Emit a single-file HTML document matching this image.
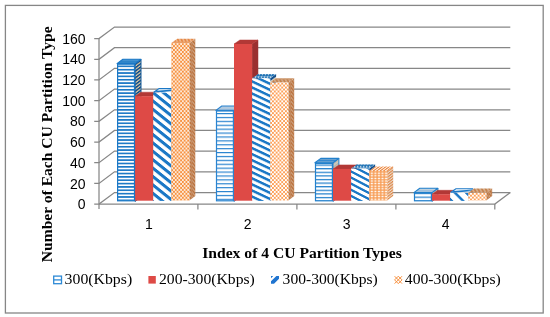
<!DOCTYPE html>
<html><head><meta charset="utf-8"><title>chart</title>
<style>
html,body{margin:0;padding:0;background:#fff;}
body{width:550px;height:317px;overflow:hidden;}
svg{display:block;}
.cal{font-family:"Liberation Sans",sans-serif;font-size:14px;fill:#000;}
.tb{font-family:"Liberation Serif",serif;font-weight:bold;font-size:15px;fill:#000;}
.tr{font-family:"Liberation Serif",serif;font-size:15.4px;fill:#000;}
</style></head><body>
<svg width="550" height="317" viewBox="0 0 550 317">
<defs>
<pattern id="b0" width="4" height="3.35" patternUnits="userSpaceOnUse" y="65.50"><rect width="4" height="3.35" fill="#fff"/><rect width="4" height="1.65" fill="#1b78c6"/></pattern>
<pattern id="b0s" width="4" height="3.35" patternUnits="userSpaceOnUse" patternTransform="translate(135.1,63.6) skewY(-36.7)"><rect width="4" height="3.35" fill="#d9c9a3"/><rect width="4" height="1.94" fill="#15508d"/></pattern>
<pattern id="b0t" width="4" height="1.5" patternUnits="userSpaceOnUse" y="59.40"><rect width="4" height="1.5" fill="#1f7cc4"/><rect width="4" height="0.6" y="0.7" fill="#4f9bd6"/></pattern>
<pattern id="d0" width="10" height="8.4" patternUnits="userSpaceOnUse" patternTransform="translate(153.2,99.25) skewY(38.7)"><rect width="10" height="8.4" fill="#fff"/><rect width="10" height="3.9" fill="#1b78c6"/></pattern>
<pattern id="d0s" width="10" height="8.4" patternUnits="userSpaceOnUse" patternTransform="translate(171.3,92.6) skewY(-36.7)"><rect width="10" height="8.4" fill="#d8d0c0"/><rect width="10" height="3.78" fill="#15508d"/></pattern>
<pattern id="o0" width="3.55" height="3.94" patternUnits="userSpaceOnUse" x="172.2" y="44.1"><rect width="3.55" height="3.94" fill="#f79240"/><circle cx="1.775" cy="0" r="0.95" fill="#fff"/><circle cx="1.775" cy="3.94" r="0.95" fill="#fff"/><circle cx="0" cy="1.97" r="0.95" fill="#fff"/><circle cx="3.55" cy="1.97" r="0.95" fill="#fff"/></pattern>
<pattern id="o0s" width="3.55" height="3.94" patternUnits="userSpaceOnUse" patternTransform="translate(189.4,43.1) skewY(-36.7) scale(0.75,1)"><rect width="3.55" height="3.94" fill="#bd7440"/><circle cx="1.775" cy="0" r="0.76" fill="#dcccbc"/><circle cx="1.775" cy="3.94" r="0.76" fill="#dcccbc"/><circle cx="0" cy="1.97" r="0.76" fill="#dcccbc"/><circle cx="3.55" cy="1.97" r="0.76" fill="#dcccbc"/></pattern>
<pattern id="o0t" width="3.55" height="3.94" patternUnits="userSpaceOnUse" patternTransform="translate(171.3,43.1) skewX(-53.3) scale(1,0.6)"><rect width="3.55" height="3.94" fill="#e58846"/><circle cx="1.775" cy="0" r="0.8075" fill="#f7e3d2"/><circle cx="1.775" cy="3.94" r="0.8075" fill="#f7e3d2"/><circle cx="0" cy="1.97" r="0.8075" fill="#f7e3d2"/><circle cx="3.55" cy="1.97" r="0.8075" fill="#f7e3d2"/></pattern>
<pattern id="b1" width="4" height="3.9" patternUnits="userSpaceOnUse" y="113.00"><rect width="4" height="3.9" fill="#fff"/><rect width="4" height="1.2" fill="#2a84d0"/></pattern>
<pattern id="b1s" width="4" height="3.9" patternUnits="userSpaceOnUse" patternTransform="translate(234.0,110.4) skewY(-36.7)"><rect width="4" height="3.9" fill="#c9c9c0"/><rect width="4" height="2.26" fill="#7d97b3"/></pattern>
<pattern id="b1t" width="4" height="1.5" patternUnits="userSpaceOnUse" y="106.20"><rect width="4" height="1.5" fill="#a9c3dc"/><rect width="4" height="0.6" y="0.7" fill="#b9cfe4"/></pattern>
<pattern id="d1" width="10" height="6.06" patternUnits="userSpaceOnUse" patternTransform="translate(252.1,104.30) skewY(25.2)"><rect width="10" height="6.06" fill="#fff"/><rect width="10" height="2.8" fill="#1b78c6"/></pattern>
<pattern id="d1s" width="10" height="6.06" patternUnits="userSpaceOnUse" patternTransform="translate(270.2,78.3) skewY(-36.7)"><rect width="10" height="6.06" fill="#d8d0c0"/><rect width="10" height="2.73" fill="#15508d"/></pattern>
<pattern id="d1t" width="3" height="3" patternUnits="userSpaceOnUse" patternTransform="translate(252.1,78.3) skewX(-53.3)"><rect width="3" height="3" fill="#1a6fb3"/><path d="M0,0.5 L3,2.5" stroke="#cfe0ee" stroke-width="0.9"/></pattern>
<pattern id="o1" width="3.7" height="3.94" patternUnits="userSpaceOnUse" x="271.1" y="83.6"><rect width="3.7" height="3.94" fill="#fff"/><path d="M0,0 L3.7,3.94 M3.7,0 L0,3.94" stroke="#fd7a14" stroke-width="0.6" stroke-linecap="square"/><circle cx="1.85" cy="1.97" r="0.54" fill="#fd7a14"/><circle cx="0" cy="0" r="0.54" fill="#fd7a14"/><circle cx="3.7" cy="0" r="0.54" fill="#fd7a14"/><circle cx="0" cy="3.94" r="0.54" fill="#fd7a14"/><circle cx="3.7" cy="3.94" r="0.54" fill="#fd7a14"/></pattern>
<pattern id="o1s" width="3.7" height="3.94" patternUnits="userSpaceOnUse" patternTransform="translate(288.4,82.6) skewY(-36.7) scale(0.75,1)"><rect width="3.7" height="3.94" fill="#bd7440"/><circle cx="1.85" cy="0" r="0.76" fill="#dcccbc"/><circle cx="1.85" cy="3.94" r="0.76" fill="#dcccbc"/><circle cx="0" cy="1.97" r="0.76" fill="#dcccbc"/><circle cx="3.7" cy="1.97" r="0.76" fill="#dcccbc"/></pattern>
<pattern id="o1t" width="3.7" height="3.94" patternUnits="userSpaceOnUse" patternTransform="translate(270.2,82.6) skewX(-53.3) scale(1,0.6)"><rect width="3.7" height="3.94" fill="#c4824e"/><circle cx="1.85" cy="0" r="0.8075" fill="#e4d2c0"/><circle cx="1.85" cy="3.94" r="0.8075" fill="#e4d2c0"/><circle cx="0" cy="1.97" r="0.8075" fill="#e4d2c0"/><circle cx="3.7" cy="1.97" r="0.8075" fill="#e4d2c0"/></pattern>
<pattern id="b2" width="4" height="3.6" patternUnits="userSpaceOnUse" y="164.50"><rect width="4" height="3.6" fill="#fff"/><rect width="4" height="1.25" fill="#2280cc"/></pattern>
<pattern id="b2s" width="4" height="3.6" patternUnits="userSpaceOnUse" patternTransform="translate(333.0,162.8) skewY(-36.7)"><rect width="4" height="3.6" fill="#d0ccc0"/><rect width="4" height="2.09" fill="#b9b9ae"/></pattern>
<pattern id="b2t" width="4" height="1.5" patternUnits="userSpaceOnUse" y="158.60"><rect width="4" height="1.5" fill="#2a84d0"/><rect width="4" height="0.6" y="0.7" fill="#9fb9cf"/></pattern>
<pattern id="d2" width="10" height="6.1" patternUnits="userSpaceOnUse" patternTransform="translate(351.1,170.20) skewY(27.5)"><rect width="10" height="6.1" fill="#fff"/><rect width="10" height="2.6" fill="#1b78c6"/></pattern>
<pattern id="d2s" width="10" height="6.1" patternUnits="userSpaceOnUse" patternTransform="translate(369.2,168.6) skewY(-36.7)"><rect width="10" height="6.1" fill="#d8d0c0"/><rect width="10" height="2.75" fill="#15508d"/></pattern>
<pattern id="d2t" width="3" height="3" patternUnits="userSpaceOnUse" patternTransform="translate(351.1,168.6) skewX(-53.3)"><rect width="3" height="3" fill="#1a6fb3"/><path d="M0,0.5 L3,2.5" stroke="#cfe0ee" stroke-width="0.9"/></pattern>
<pattern id="o2" width="3.55" height="2.6" patternUnits="userSpaceOnUse" x="370.1" y="171.9"><rect width="3.55" height="2.6" fill="#f8a25e"/><rect x="0.65" y="0.6" width="2.2" height="1.4" rx="0.4" fill="#fff"/></pattern>
<pattern id="o2s" width="4" height="2.8" patternUnits="userSpaceOnUse" patternTransform="translate(387.3,170.9) skewY(-36.7)"><rect width="4" height="2.8" fill="#eadccf"/><rect width="4" height="1.5" fill="#e08a4a"/></pattern>
<pattern id="o2t" width="3.4" height="4" patternUnits="userSpaceOnUse" patternTransform="translate(369.2,170.9) skewX(-53.3)"><rect width="3.4" height="4" fill="#fbeee2"/><rect width="1.8" height="4" fill="#ee8c48"/></pattern>
<pattern id="b3" width="4" height="3.9" patternUnits="userSpaceOnUse" y="192.70"><rect width="4" height="3.9" fill="#fff"/><rect width="4" height="1.2" fill="#2280cc"/></pattern>
<pattern id="b3s" width="4" height="3.9" patternUnits="userSpaceOnUse" patternTransform="translate(432.0,192.6) skewY(-36.7)"><rect width="4" height="3.9" fill="#d0ccc0"/><rect width="4" height="2.26" fill="#b9b9ae"/></pattern>
<pattern id="b3t" width="4" height="1.5" patternUnits="userSpaceOnUse" y="188.40"><rect width="4" height="1.5" fill="#8db7dc"/><rect width="4" height="0.6" y="0.7" fill="#d5dde2"/></pattern>
<pattern id="d3" width="10" height="11.3" patternUnits="userSpaceOnUse" patternTransform="translate(450.1,186.15) skewY(45.0)"><rect width="10" height="11.3" fill="#fff"/><rect width="10" height="3.5" fill="#1b78c6"/></pattern>
<pattern id="d3s" width="10" height="11.3" patternUnits="userSpaceOnUse" patternTransform="translate(468.2,192.8) skewY(-36.7)"><rect width="10" height="11.3" fill="#d8d0c0"/><rect width="10" height="5.09" fill="#15508d"/></pattern>
<pattern id="o3" width="3.8" height="3.8" patternUnits="userSpaceOnUse" x="469.1" y="193.8"><rect width="3.8" height="3.8" fill="#fff"/><path d="M0,0 L3.8,3.8 M3.8,0 L0,3.8" stroke="#fd7a14" stroke-width="0.6" stroke-linecap="square"/><circle cx="1.9" cy="1.9" r="0.54" fill="#fd7a14"/><circle cx="0" cy="0" r="0.54" fill="#fd7a14"/><circle cx="3.8" cy="0" r="0.54" fill="#fd7a14"/><circle cx="0" cy="3.8" r="0.54" fill="#fd7a14"/><circle cx="3.8" cy="3.8" r="0.54" fill="#fd7a14"/></pattern>
<pattern id="o3s" width="3.8" height="3.8" patternUnits="userSpaceOnUse" patternTransform="translate(486.3,192.8) skewY(-36.7) scale(0.75,1)"><rect width="3.8" height="3.8" fill="#bd7440"/><circle cx="1.9" cy="0" r="0.76" fill="#dcccbc"/><circle cx="1.9" cy="3.8" r="0.76" fill="#dcccbc"/><circle cx="0" cy="1.9" r="0.76" fill="#dcccbc"/><circle cx="3.8" cy="1.9" r="0.76" fill="#dcccbc"/></pattern>
<pattern id="o3t" width="3.8" height="3.8" patternUnits="userSpaceOnUse" patternTransform="translate(468.2,192.8) skewX(-53.3) scale(1,0.6)"><rect width="3.8" height="3.8" fill="#c4824e"/><circle cx="1.9" cy="0" r="0.8075" fill="#e4d2c0"/><circle cx="1.9" cy="3.8" r="0.8075" fill="#e4d2c0"/><circle cx="0" cy="1.9" r="0.8075" fill="#e4d2c0"/><circle cx="3.8" cy="1.9" r="0.8075" fill="#e4d2c0"/></pattern>
</defs>
<rect width="550" height="317" fill="#fff"/>
<rect x="5.4" y="5.4" width="537.8" height="307.6" fill="none" stroke="#868686" stroke-width="1.3"/>
<g fill="none" stroke="#878787" stroke-width="1.25"><path d="M94.2,204.10 H99.0 L114.5,192.50 H510.3"/>
<path d="M94.2,183.41 H99.0 L114.5,171.81 H510.3"/>
<path d="M94.2,162.72 H99.0 L114.5,151.12 H510.3"/>
<path d="M94.2,142.04 H99.0 L114.5,130.44 H510.3"/>
<path d="M94.2,121.35 H99.0 L114.5,109.75 H510.3"/>
<path d="M94.2,100.66 H99.0 L114.5,89.06 H510.3"/>
<path d="M94.2,79.97 H99.0 L114.5,68.37 H510.3"/>
<path d="M94.2,59.28 H99.0 L114.5,47.68 H510.3"/>
<path d="M94.2,38.60 H99.0 L114.5,27.00 H510.3"/>
<path d="M99.0,38.00 V208.9"/>
<path d="M99.0,204.10 H494.8 L510.3,192.50"/>
<path d="M197.9,204.10 V209.4"/>
<path d="M296.9,204.10 V209.4"/>
<path d="M395.9,204.10 V209.4"/>
<path d="M494.8,204.10 V209.4"/></g>
<path d="M135.1,63.6 L141.0,59.2 V197.0 L135.1,201.4 Z" fill="url(#b0s)" stroke="#155a99" stroke-width="1"/>
<path d="M117.0,63.6 L122.9,59.2 H141.0 L135.1,63.6 Z" fill="url(#b0t)" stroke="#1b78c6" stroke-width="1.1" stroke-linejoin="round"/>
<rect x="117.6" y="64.2" width="16.9" height="136.6" fill="url(#b0)" stroke="#1b78c6" stroke-width="1.2"/>
<path d="M153.2,96.2 L159.1,92.2 V196.7 L153.2,200.7 Z" fill="#9a3030" stroke="#9a3030" stroke-width="0.5"/>
<path d="M135.1,96.2 L141.0,92.2 H159.1 L153.2,96.2 Z" fill="#b23836" stroke="#b23836" stroke-width="0.5"/>
<rect x="135.1" y="96.2" width="18.1" height="104.5" fill="#de4a46"/>
<path d="M171.3,92.6 L177.2,88.2 V196.5 L171.3,200.9 Z" fill="url(#d0s)"/>
<path d="M153.2,92.6 L159.1,88.2 H177.2 L171.3,92.6 Z" fill="#fff"/>
<path d="M153.7,92.3 L159.1,88.6 H176.2 M156.2,91.4 L176.2,89.8 M154.2,92.3 L173.3,90.4" fill="none" stroke="#1b78c6" stroke-width="1.1"/>
<rect x="153.2" y="92.6" width="18.1" height="108.3" fill="url(#d0)"/>
<path d="M189.4,43.1 L195.3,38.7 V196.1 L189.4,200.5 Z" fill="url(#o0s)"/>
<path d="M171.3,43.1 L177.2,38.7 H195.3 L189.4,43.1 Z" fill="url(#o0t)"/>
<rect x="171.3" y="43.1" width="18.1" height="157.4" fill="url(#o0)"/>
<path d="M234.0,110.4 L239.9,106.0 V197.0 L234.0,201.4 Z" fill="url(#b1s)" stroke="#2a84d0" stroke-width="1"/>
<path d="M215.9,110.4 L221.8,106.0 H239.9 L234.0,110.4 Z" fill="url(#b1t)" stroke="#2a84d0" stroke-width="1.1" stroke-linejoin="round"/>
<rect x="216.5" y="111.0" width="16.9" height="89.8" fill="url(#b1)" stroke="#2a84d0" stroke-width="1.2"/>
<path d="M252.1,44.0 L258.0,40.0 V196.7 L252.1,200.7 Z" fill="#9a3030" stroke="#9a3030" stroke-width="0.5"/>
<path d="M234.0,44.0 L239.9,40.0 H258.0 L252.1,44.0 Z" fill="#b23836" stroke="#b23836" stroke-width="0.5"/>
<rect x="234.0" y="44.0" width="18.1" height="156.7" fill="#de4a46"/>
<path d="M270.2,78.3 L276.1,73.9 V196.5 L270.2,200.9 Z" fill="url(#d1s)"/>
<path d="M252.1,78.3 L258.0,73.9 H276.1 L270.2,78.3 Z" fill="url(#d1t)"/>
<rect x="252.1" y="78.3" width="18.1" height="122.6" fill="url(#d1)"/>
<path d="M288.4,82.6 L294.2,78.2 V196.1 L288.4,200.5 Z" fill="url(#o1s)"/>
<path d="M270.2,82.6 L276.1,78.2 H294.2 L288.4,82.6 Z" fill="url(#o1t)"/>
<rect x="270.2" y="82.6" width="18.1" height="117.9" fill="url(#o1)"/>
<path d="M333.0,162.8 L338.9,158.4 V197.0 L333.0,201.4 Z" fill="url(#b2s)" stroke="#2280cc" stroke-width="1"/>
<path d="M314.9,162.8 L320.8,158.4 H338.9 L333.0,162.8 Z" fill="url(#b2t)" stroke="#2280cc" stroke-width="1.1" stroke-linejoin="round"/>
<rect x="315.5" y="163.4" width="16.9" height="37.4" fill="url(#b2)" stroke="#2280cc" stroke-width="1.2"/>
<path d="M351.1,168.9 L357.0,164.9 V196.7 L351.1,200.7 Z" fill="#9a3030" stroke="#9a3030" stroke-width="0.5"/>
<path d="M333.0,168.9 L338.9,164.9 H357.0 L351.1,168.9 Z" fill="#b23836" stroke="#b23836" stroke-width="0.5"/>
<rect x="333.0" y="168.9" width="18.1" height="31.8" fill="#de4a46"/>
<path d="M369.2,168.6 L375.1,164.2 V196.5 L369.2,200.9 Z" fill="url(#d2s)"/>
<path d="M351.1,168.6 L357.0,164.2 H375.1 L369.2,168.6 Z" fill="url(#d2t)"/>
<rect x="351.1" y="168.6" width="18.1" height="32.3" fill="url(#d2)"/>
<path d="M387.3,170.9 L393.2,166.5 V196.1 L387.3,200.5 Z" fill="url(#o2s)"/>
<path d="M369.2,170.9 L375.1,166.5 H393.2 L387.3,170.9 Z" fill="url(#o2t)"/>
<rect x="369.2" y="170.9" width="18.1" height="29.6" fill="url(#o2)"/>
<path d="M432.0,192.6 L437.9,188.2 V197.0 L432.0,201.4 Z" fill="url(#b3s)" stroke="#2280cc" stroke-width="1"/>
<path d="M413.9,192.6 L419.8,188.2 H437.9 L432.0,192.6 Z" fill="url(#b3t)" stroke="#2280cc" stroke-width="1.1" stroke-linejoin="round"/>
<rect x="414.5" y="193.2" width="16.9" height="7.6" fill="url(#b3)" stroke="#2280cc" stroke-width="1.2"/>
<path d="M450.1,194.3 L456.0,190.3 V196.7 L450.1,200.7 Z" fill="#9a3030" stroke="#9a3030" stroke-width="0.5"/>
<path d="M432.0,194.3 L437.9,190.3 H456.0 L450.1,194.3 Z" fill="#b23836" stroke="#b23836" stroke-width="0.5"/>
<rect x="432.0" y="194.3" width="18.1" height="6.4" fill="#de4a46"/>
<path d="M468.2,192.8 L474.1,188.4 V196.5 L468.2,200.9 Z" fill="url(#d3s)"/>
<path d="M450.1,192.8 L455.9,188.4 H474.1 L468.2,192.8 Z" fill="#fff"/>
<path d="M450.6,192.5 L455.9,188.8 H473.1 M453.1,191.6 L473.1,190.0 M451.1,192.5 L470.2,190.6" fill="none" stroke="#1b78c6" stroke-width="1.1"/>
<rect x="450.1" y="192.8" width="18.1" height="8.1" fill="url(#d3)"/>
<path d="M486.3,192.8 L492.2,188.4 V196.1 L486.3,200.5 Z" fill="url(#o3s)"/>
<path d="M468.2,192.8 L474.1,188.4 H492.2 L486.3,192.8 Z" fill="url(#o3t)"/>
<rect x="468.2" y="192.8" width="18.1" height="7.7" fill="url(#o3)"/>
<text class="cal" x="85.6" y="209.2" text-anchor="end">0</text>
<text class="cal" x="85.6" y="188.5" text-anchor="end">20</text>
<text class="cal" x="85.6" y="167.8" text-anchor="end">40</text>
<text class="cal" x="85.6" y="147.1" text-anchor="end">60</text>
<text class="cal" x="85.6" y="126.4" text-anchor="end">80</text>
<text class="cal" x="85.6" y="105.8" text-anchor="end">100</text>
<text class="cal" x="85.6" y="85.1" text-anchor="end">120</text>
<text class="cal" x="85.6" y="64.4" text-anchor="end">140</text>
<text class="cal" x="85.6" y="43.7" text-anchor="end">160</text>
<text class="cal" x="148.8" y="229" text-anchor="middle">1</text>
<text class="cal" x="247.7" y="229" text-anchor="middle">2</text>
<text class="cal" x="346.7" y="229" text-anchor="middle">3</text>
<text class="cal" x="445.6" y="229" text-anchor="middle">4</text>
<text class="tb" x="202.2" y="257.6" textLength="199.6" lengthAdjust="spacingAndGlyphs">Index of 4 CU Partition Types</text>
<text class="tb" transform="translate(52,262.2) rotate(-90)" textLength="235.8" lengthAdjust="spacingAndGlyphs">Number of Each CU Partition Type</text>
<rect x="53.7" y="276.1" width="7.8" height="7.6" fill="#fff" stroke="#2e8ad6" stroke-width="1.3"/><path d="M53.7,279.9 H61.5" stroke="#2e8ad6" stroke-width="1.3"/>
<text class="tr" x="64.6" y="284" textLength="67.6" lengthAdjust="spacingAndGlyphs">300(Kbps)</text>
<rect x="148.4" y="276" width="7.4" height="7.6" fill="#de4a46"/>
<text class="tr" x="159" y="284" textLength="95.8" lengthAdjust="spacingAndGlyphs">200-300(Kbps)</text>
<path d="M271,281.2 L276.4,276 L279,276 L279,278.8 L274,283.7 L271,283.7 Z M271,276 L273.2,276 L271,278.2 Z" fill="#1f74d0"/>
<text class="tr" x="282.6" y="284" textLength="95.2" lengthAdjust="spacingAndGlyphs">300-300(Kbps)</text>
<g stroke="#f78f3c" stroke-width="1" fill="none"><path d="M394.6,276.2 L402,283.6 M394.6,283.6 L402,276.2 M394.6,279.9 L398.3,276.2 L402,279.9 L398.3,283.6 Z"/></g>
<text class="tr" x="404.8" y="284" textLength="96" lengthAdjust="spacingAndGlyphs">400-300(Kbps)</text>
</svg>
</body></html>
